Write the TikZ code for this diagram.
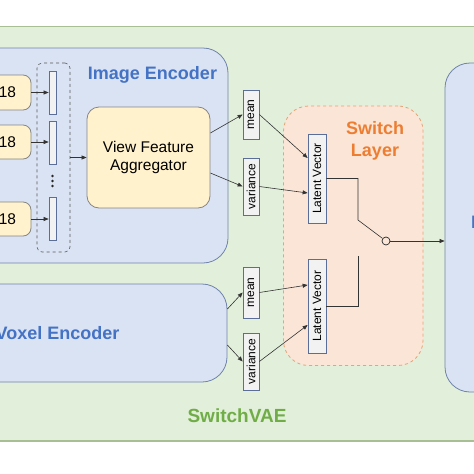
\documentclass[tikz,border=0pt]{standalone}
\usepackage{fontspec}
\setmainfont{Liberation Sans}
\usetikzlibrary{calc, arrows.meta}

\definecolor{bgfill}{HTML}{E2EFDA}
\definecolor{bgline}{HTML}{A8BF96}
\definecolor{encfill}{HTML}{DAE3F3}
\definecolor{encline}{HTML}{7083AA}
\definecolor{resfill}{HTML}{FFF2CC}
\definecolor{resline}{HTML}{858585}
\definecolor{swfill}{HTML}{FBE5D6}
\definecolor{swline}{HTML}{E3A478}
\definecolor{vecfill}{HTML}{F2F2F2}
\definecolor{vecline}{HTML}{5A6E99}
\definecolor{blue title}{HTML}{4472C4}
\definecolor{orange title}{HTML}{ED7D31}
\definecolor{green title}{HTML}{70AD47}

\tikzset{
  encoder/.style={draw=encline, fill=encfill, line width=0.8pt, rounded corners=25pt, inner sep=0pt},
  resbox/.style={draw=resline, fill=resfill, line width=0.8pt, rounded corners=8pt, inner sep=0pt,
    font=\fontsize{15.5}{18}\selectfont},
  featbar/.style={draw=vecline, fill=vecfill, line width=0.7pt, inner sep=0pt, minimum width=7pt},
  vecbox/.style={draw=vecline, fill=vecfill, line width=0.7pt, inner sep=0pt,
    font=\fontsize{12}{14}\selectfont},
  title/.style={font=\bfseries\fontsize{18}{22}\selectfont, align=center},
  link/.style={draw=black!80, line width=0.6pt},
  arr/.style={link, -{Triangle[length=5pt, width=4pt]}}
}

\begin{document}
\begin{tikzpicture}[x=1pt, y=-1pt]
\useasboundingbox (0,0) rectangle (474,474);
\fill[white] (0,0) rectangle (474,474);
\clip (0,0) rectangle (474,474);

% outer frame
\draw[bgline, fill=bgfill, line width=1.2pt] (-10,26.5) rectangle (490,441);

% encoders and decoder
\node[encoder, minimum width=268pt, minimum height=215pt] (imgenc) at (94,155.5) {};
\node[encoder, minimum width=267pt, minimum height=98pt] (voxenc) at (93.5,333) {};
\node[encoder, minimum width=75pt, minimum height=329pt] (dec) at (482.5,227.5) {};
\node[title, text=blue title] at (152.5,75) {Image Encoder};
\node[title, text=blue title] at (57.5,333) {Voxel Encoder};
\node[title, text=blue title, anchor=west, inner sep=0pt] at (471,222) {Decoder};

% switch layer
\node[draw=swline, fill=swfill, dashed, line width=0.8pt, rounded corners=25pt,
  minimum width=139.5pt, minimum height=259.5pt] (swl) at (353.25,235.75) {};
\node[title, text=orange title, font=\bfseries\fontsize{18}{22}\selectfont] at (375,141) {Switch\\Layer};

% per-view branches
\node[resbox, minimum width=104pt, minimum height=35pt] (res1) at (-21,92.5) {ResNet-18};
\node[resbox, minimum width=104pt, minimum height=34pt] (res2) at (-21,142) {ResNet-18};
\node[resbox, minimum width=104pt, minimum height=34pt] (res3) at (-21,219) {ResNet-18};

\node[draw=black!65, dashed, line width=0.6pt, rounded corners=5pt, minimum width=33pt,
  minimum height=189pt] (grp) at (53.5,157.5) {};
\node[featbar, minimum height=43pt] (bar1) at (52.5,92.5) {};
\node[featbar, minimum height=43pt] (bar2) at (52.5,142.5) {};
\node[featbar, minimum height=43pt] (bar3) at (52.5,218.5) {};
\foreach \y in {176,181,186}
  \fill[black!85] (52.5,\y) circle (1.3pt);

\node[resbox, rounded corners=12pt, minimum width=123pt, minimum height=101pt, align=center]
  (agg) at (148.5,157.5) {View Feature\\Aggregator};

% mean / variance
\node[vecbox, minimum width=16pt, minimum height=49pt] (mean1) at (251,114.5) {\rotatebox{90}{mean}};
\node[vecbox, minimum width=16pt, minimum height=57pt] (var1) at (251,186.5) {\rotatebox{90}{variance}};
\node[vecbox, minimum width=16pt, minimum height=51pt] (mean2) at (251,292.5) {\rotatebox{90}{mean}};
\node[vecbox, minimum width=16pt, minimum height=57pt] (var2) at (251,361.5) {\rotatebox{90}{variance}};

% latent vectors and switch
\node[vecbox, minimum width=18pt, minimum height=89pt] (lat1) at (317,178.5) {\rotatebox{90}{Latent Vector}};
\node[vecbox, minimum width=18pt, minimum height=94pt] (lat2) at (317,306) {\rotatebox{90}{Latent Vector}};
\node[draw=black!85, fill=swfill, circle, line width=0.7pt, inner sep=0pt, minimum size=8pt] (sw) at (386,241) {};
\coordinate (knee1) at (358,220);
\coordinate (knee2) at (358,256);

% connectors
\draw[arr] (res1.east) -- (res1.east -| bar1.west);
\draw[arr] (res2.east) -- (res2.east -| bar2.west);
\draw[arr] (res3.east) -- (res3.east -| bar3.west);
\draw[arr] (grp.east) -- (agg.west);
\draw[arr] ($(agg.east)+(0,-24.5)$) -- (mean1.west);
\draw[arr] ($(agg.east)+(0,15.5)$) -- (var1.west);
\draw[arr] ($(voxenc.east)+(0,-24)$) -- (mean2.west);
\draw[arr] ($(voxenc.east)+(0,12)$) -- (var2.west);
\draw[arr] (mean1.east) -- ($(lat1.west)+(0,-20.5)$);
\draw[arr] (var1.east) -- ($(lat1.west)+(0,14.5)$);
\draw[arr] (mean2.east) -- ($(lat2.west)+(0,-21)$);
\draw[arr] (var2.east) -- ($(lat2.west)+(0,19)$);
\draw[link] (lat1.east) -| (knee1) -- (sw);
\draw[link] (lat2.east) -| (knee2);
\draw[arr] (sw.east) -- (sw -| dec.west);

\node[title, text=green title, font=\bfseries\fontsize{19}{22}\selectfont] at (237,416) {SwitchVAE};
\end{tikzpicture}
\end{document}
